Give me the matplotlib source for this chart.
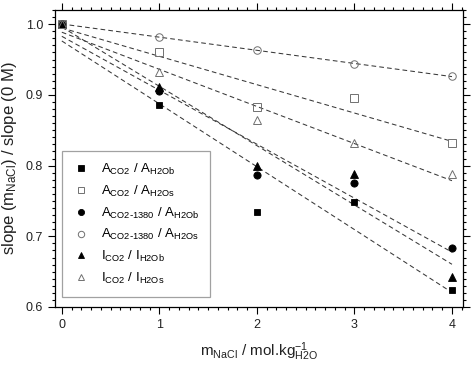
import numpy as np
import matplotlib
matplotlib.use('Agg')
import matplotlib.pyplot as plt
from matplotlib.ticker import MultipleLocator

plt.rcParams['font.family'] = ['Liberation Sans', 'DejaVu Sans']
plt.rcParams['mathtext.default'] = 'regular'

# NaCl molality (mol/kg H2O)
m_nacl = [0, 1, 2, 3, 4]

# normalised slopes
a_co2_h2ob = [1.0, 0.885, 0.735, 0.748, 0.624]
a_co2_h2os = [1.0, 0.961, 0.883, 0.896, 0.832]
a1380_h2ob = [1.0, 0.905, 0.787, 0.776, 0.683]
a1380_h2os = [1.0, 0.982, 0.963, 0.944, 0.926]
i_co2_h2ob = [1.0, 0.911, 0.800, 0.788, 0.642]
i_co2_h2os = [1.0, 0.933, 0.865, 0.832, 0.788]

labels = [
    r'A$_{CO2}$ / A$_{H2Ob}$',
    r'A$_{CO2}$ / A$_{H2Os}$',
    r'A$_{CO2\text{-}1380}$ / A$_{H2Ob}$',
    r'A$_{CO2\text{-}1380}$ / A$_{H2Os}$',
    r'I$_{CO2}$ / I$_{H2Ob}$',
    r'I$_{CO2}$ / I$_{H2Os}$',
]

series = [a_co2_h2ob, a_co2_h2os, a1380_h2ob, a1380_h2os, i_co2_h2ob, i_co2_h2os]
markers = ['s', 's', 'o', 'o', '^', '^']
filled = [True, False, True, False, True, False]
sizes = [4.6, 5.2, 5.2, 5.4, 5.4, 5.6]

fig = plt.figure(figsize=(4.74, 3.66), dpi=100)
ax = fig.add_axes([55 / 474, 1 - 307 / 366, 407.7 / 474, 297 / 366])

x = np.array(m_nacl, dtype=float)
xfit = np.array([0.0, 4.0])
for y, mk, fl, ms, lab in zip(series, markers, filled, sizes, labels):
    # linear fit through the points (dashed line)
    k, b = np.polyfit(x, y, 1)
    ax.plot(xfit, k * xfit + b, ls=(0, (4.5, 3)), lw=0.75, color='#383838', zorder=2)
    if fl:
        ax.plot(x, y, ls='none', marker=mk, ms=ms, mfc='black', mec='black',
                mew=0.6, label=lab, zorder=3)
    else:
        ax.plot(x, y, ls='none', marker=mk, ms=ms, mfc='none', mec='#707070',
                mew=0.7, label=lab, zorder=3)

ax.set_xlim(-0.07, 4.11)
ax.set_ylim(0.6, 1.02)
ax.xaxis.set_major_locator(MultipleLocator(1))
ax.xaxis.set_minor_locator(MultipleLocator(0.1))
ax.yaxis.set_major_locator(MultipleLocator(0.1))
ax.yaxis.set_minor_locator(MultipleLocator(0.01))
ax.yaxis.set_major_formatter(plt.FormatStrFormatter('%.1f'))
ax.tick_params(which='both', direction='out', top=True, right=True, labelsize=9,
               width=0.8, colors='black', labelcolor='#222222')
ax.tick_params(which='major', length=5)
ax.tick_params(which='minor', length=2.5)
for s in ax.spines.values():
    s.set_linewidth(0.9)

ax.set_xlabel(r'm$_{NaCl}$ / mol.kg$_{H2O}^{-1}$', fontsize=11, color='#222222', labelpad=7)
ax.set_ylabel(r'slope (m$_{NaCl}$) / slope (0 M)', fontsize=12, color='#222222', labelpad=5)

leg = ax.legend(loc='lower left', bbox_to_anchor=(0.017, 0.034), borderaxespad=0,
                fontsize=9.5, frameon=True, fancybox=False, edgecolor='#8a8a8a',
                handlelength=1.2, handletextpad=0.9, labelspacing=0.5,
                borderpad=0.85, markerscale=0.85)
leg.get_frame().set_linewidth(0.9)

fig.savefig('out.png', dpi=100)
